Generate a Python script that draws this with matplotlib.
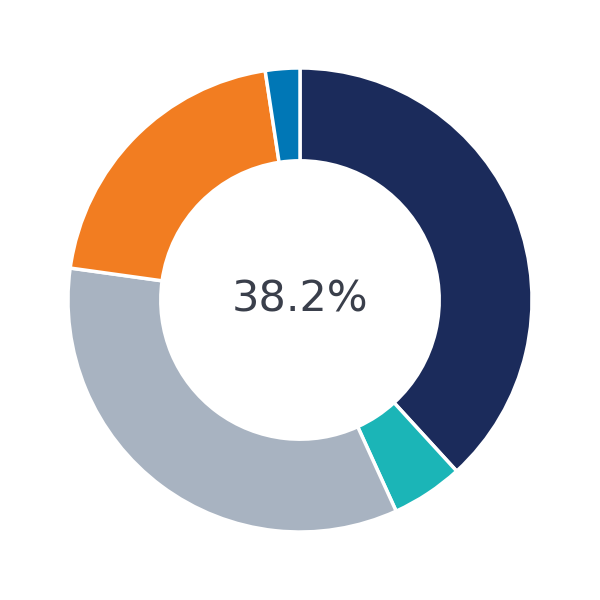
import matplotlib
matplotlib.use("Agg")
import matplotlib.pyplot as plt

labels = ["A", "B", "C", "D", "E"]
values = [38.2, 5.0, 34.0, 20.4, 2.4]
colors = ["#1b2b5b", "#1bb5b7", "#a8b3c1", "#f27d21", "#0077b6"]
center_text = "38.2%"

fig = plt.figure(figsize=(6, 6), dpi=100)
ax = fig.add_axes([0, 0, 1, 1])
ax.pie(values, colors=colors, startangle=90, counterclock=False, radius=1,
       wedgeprops=dict(width=0.4, edgecolor="white", linewidth=2.5))
ax.text(0, 0, center_text, ha="center", va="center", fontsize=31, color="#3a3f4b")
ax.set_xlim(-1.293, 1.293)
ax.set_ylim(-1.293, 1.293)
ax.set_aspect("equal")
ax.axis("off")
fig.savefig("out.png", dpi=100)
